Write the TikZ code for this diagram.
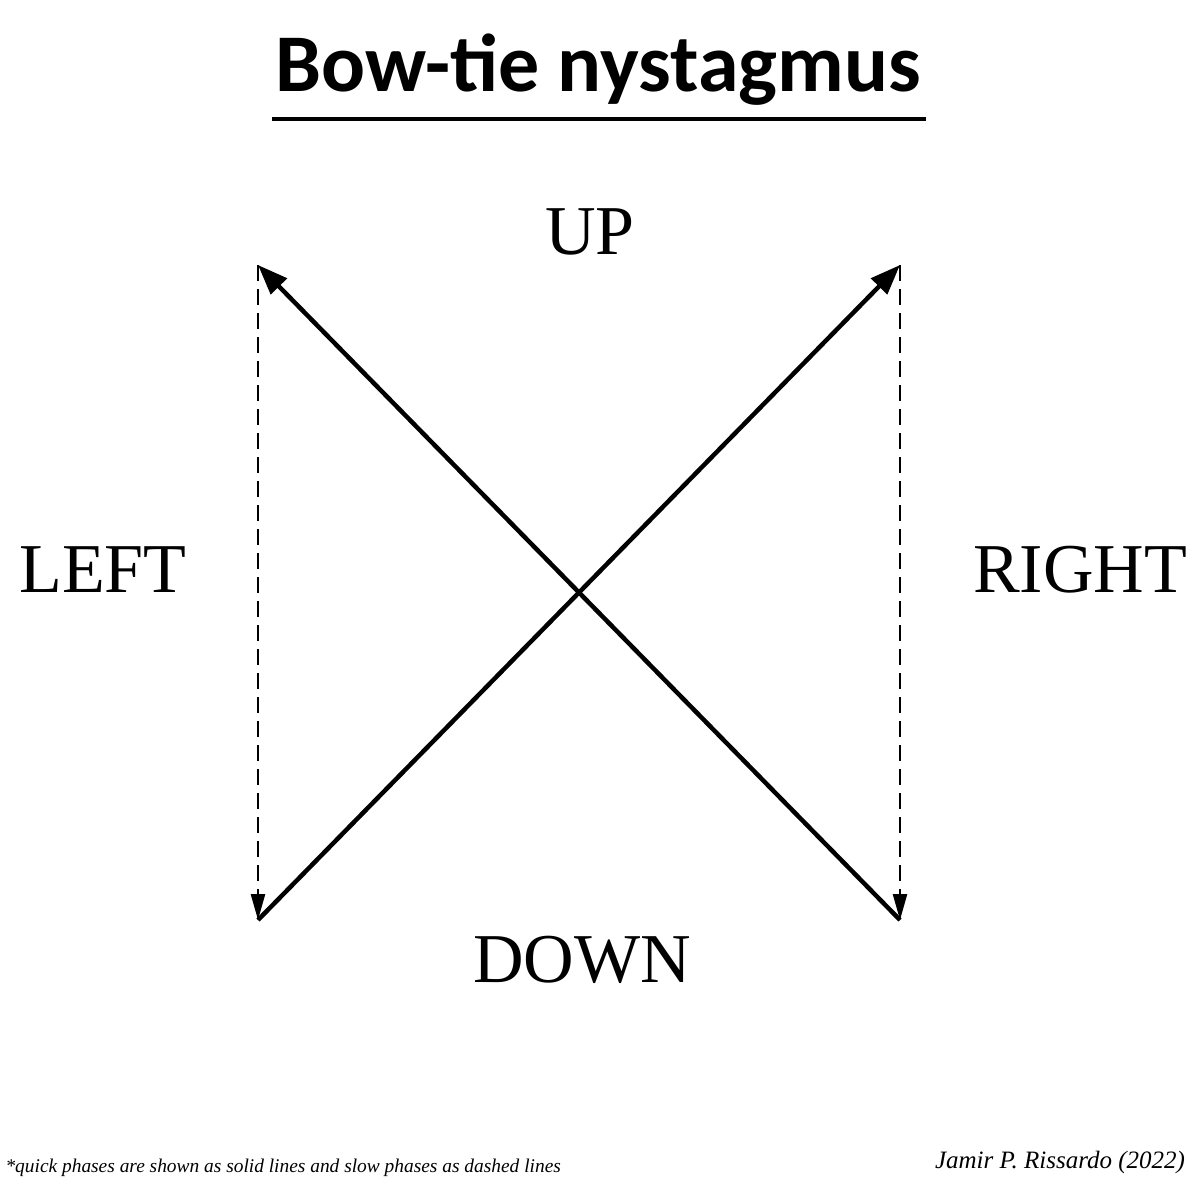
\documentclass[tikz,border=0pt]{standalone}
\usepackage{fontspec}
\setmainfont{Liberation Serif}
\newfontfamily\titlefont{Carlito}
\usetikzlibrary{arrows.meta}
\begin{document}
\begin{tikzpicture}[x=1pt,y=-1pt,
  quick/.style={line width=4.5pt,-{Triangle[length=30pt,width=22pt]}},
  slow/.style={line width=2.5pt,dash pattern=on 16pt off 8pt,-{Triangle[length=26pt,width=14pt]}},
  lab/.style={font=\fontsize{70}{74}\selectfont}]
\useasboundingbox (0,0) rectangle (1200,1200);
\node (title) at (598,70) {\titlefont\bfseries\fontsize{82}{86}\selectfont Bow-tie nystagmus};
\draw[line width=4pt] (272,119) -- (926,119);
\node[lab] (up) at (590,232) {UP};
\node[lab] (left) at (103,570) {LEFT};
\node[lab] (right) at (1080,570) {RIGHT};
\node[lab] (down) at (582,960) {DOWN};
\coordinate (tl) at (258,265);
\coordinate (tr) at (900,265);
\coordinate (bl) at (258,920);
\coordinate (br) at (900,920);
\draw[quick] (br) -- (tl);
\draw[quick] (bl) -- (tr);
\draw[slow] (tl) -- (bl);
\draw[slow] (tr) -- (br);
\node[anchor=west] (note) at (2,1168) {\itshape\fontsize{19.4}{21}\selectfont *quick phases are shown as solid lines and slow phases as dashed lines};
\node (sig) at (1060,1162) {\itshape\fontsize{25}{28}\selectfont Jamir P. Rissardo (2022)};
\end{tikzpicture}
\end{document}
